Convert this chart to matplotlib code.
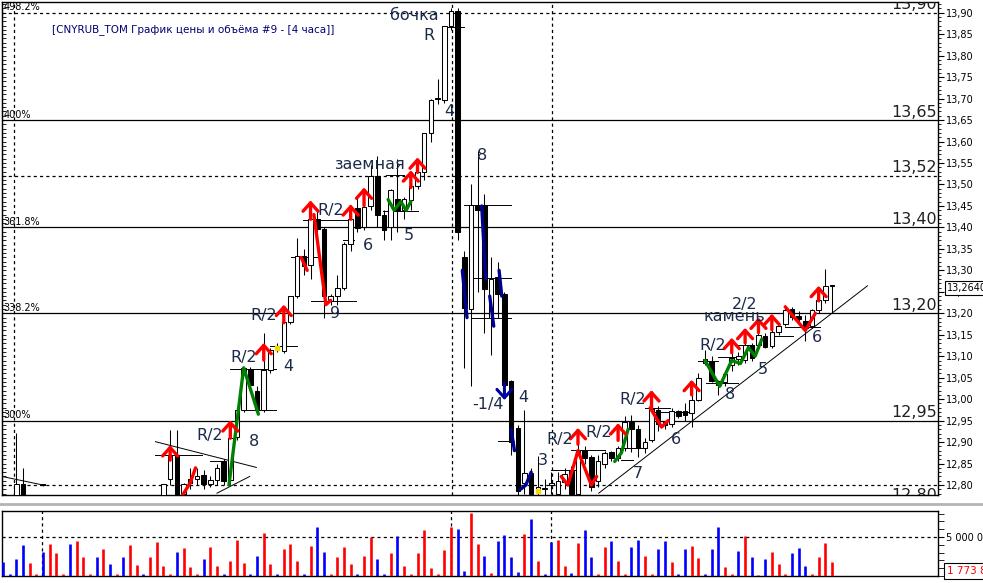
import numpy as np
import matplotlib.pyplot as plt
from matplotlib.lines import Line2D
from matplotlib.ticker import MultipleLocator, FixedLocator, FuncFormatter

nan = np.nan

# CNYRUB_TOM, 4-hour bars, index 0..124 (NaN = bar sits below the visible window)
opens = [nan, nan, 12.775, 12.802, nan, nan, 12.801, nan, nan, nan,
         nan, nan, nan, nan, nan, nan, nan, nan, nan, nan,
         nan, nan, nan, nan, 12.775, 12.813, 12.867, 12.778, 12.815, 12.813,
         12.823, 12.802, 12.812, 12.855, 12.812, 12.911, 12.975, 13.070, 13.020, 12.975,
         13.069, 13.120, 13.113, 13.180, 13.240, 13.334, 13.313, 13.419, 13.396, 13.229,
         13.241, 13.260, 13.361, 13.445, 13.400, 13.449, 13.520, 13.430, 13.400, 13.466,
         13.440, 13.463, 13.496, 13.528, 13.620, 13.700, 13.697, 13.869, 13.905, 13.330,
         13.210, 13.450, 13.453, 13.190, 13.285, 13.244, 13.042, 12.933, 12.804, 12.827,
         12.790, 12.790, 12.800, 12.780, 12.806, 12.833, 12.780, 12.882, 12.865, 12.810,
         12.848, 12.876, 12.862, 12.886, 12.947, 12.930, 12.886, 12.905, 12.974, 12.948,
         12.942, 12.973, 12.972, 12.968, 12.999, 13.084, 13.089, 13.043, 13.041, 13.080,
         13.093, 13.092, 13.127, 13.126, 13.148, 13.124, 13.157, 13.174, 13.209, 13.194,
         13.183, 13.170, 13.207, 13.231, 13.264]
highs = [nan, nan, 12.921, 12.839, nan, nan, 12.803, nan, nan, nan,
         nan, nan, nan, nan, nan, nan, nan, nan, nan, nan,
         nan, nan, nan, nan, 12.802, 12.929, 12.929, 12.805, 12.840, 12.839,
         12.835, 12.820, 12.850, 12.860, 12.950, 12.980, 13.075, 13.075, 13.030, 13.154,
         13.120, 13.130, 13.190, 13.240, 13.376, 13.350, 13.430, 13.440, 13.400, 13.245,
         13.290, 13.365, 13.420, 13.470, 13.490, 13.545, 13.566, 13.440, 13.490, 13.560,
         13.470, 13.500, 13.530, 13.620, 13.700, 13.746, 13.870, 13.910, 13.910, 13.346,
         13.500, 13.577, 13.477, 13.330, 13.320, 13.250, 13.045, 12.940, 12.975, 12.840,
         12.867, 12.815, 12.830, 12.830, 12.840, 12.845, 12.920, 12.890, 12.870, 12.870,
         12.880, 12.880, 12.890, 12.960, 12.964, 12.940, 12.910, 12.985, 12.985, 12.950,
         12.980, 12.975, 12.990, 13.010, 13.060, 13.115, 13.100, 13.045, 13.065, 13.110,
         13.110, 13.160, 13.130, 13.155, 13.155, 13.165, 13.175, 13.220, 13.215, 13.205,
         13.197, 13.210, 13.235, 13.303, 13.264]
lows = [nan, nan, 12.770, 12.770, nan, nan, 12.798, nan, nan, nan,
        nan, nan, nan, nan, nan, nan, nan, nan, nan, nan,
        nan, nan, nan, nan, 12.770, 12.800, 12.770, 12.770, 12.790, 12.800,
        12.790, 12.795, 12.800, 12.800, 12.800, 12.905, 12.970, 13.020, 12.965, 12.970,
        13.060, 13.110, 13.108, 13.175, 13.236, 13.290, 13.280, 13.390, 13.190, 13.220,
        13.220, 13.255, 13.345, 13.390, 13.395, 13.440, 13.400, 13.370, 13.370, 13.390,
        13.420, 13.440, 13.490, 13.510, 13.600, 13.688, 13.690, 13.860, 13.370, 13.073,
        13.030, 13.250, 13.155, 13.104, 13.190, 13.030, 12.870, 12.770, 12.780, 12.770,
        12.770, 12.770, 12.780, 12.770, 12.790, 12.770, 12.770, 12.850, 12.785, 12.795,
        12.840, 12.855, 12.855, 12.880, 12.878, 12.865, 12.875, 12.900, 12.925, 12.930,
        12.935, 12.955, 12.950, 12.935, 12.995, 13.080, 13.040, 13.010, 13.030, 13.065,
        13.080, 13.085, 13.090, 13.120, 13.118, 13.120, 13.150, 13.170, 13.185, 13.180,
        13.135, 13.165, 13.200, 13.225, 13.200]
closes = [nan, nan, 12.802, 12.775, nan, nan, 12.800, nan, nan, nan,
          nan, nan, nan, nan, nan, nan, nan, nan, nan, nan,
          nan, nan, nan, nan, 12.802, 12.867, 12.775, 12.802, 12.805, 12.821,
          12.802, 12.811, 12.839, 12.810, 12.909, 12.975, 13.073, 13.034, 12.975, 13.069,
          13.115, 13.117, 13.180, 13.240, 13.334, 13.311, 13.419, 13.396, 13.240, 13.241,
          13.260, 13.361, 13.419, 13.398, 13.447, 13.520, 13.430, 13.393, 13.486, 13.440,
          13.466, 13.496, 13.528, 13.620, 13.697, 13.698, 13.869, 13.905, 13.390, 13.213,
          13.453, 13.440, 13.256, 13.281, 13.244, 13.034, 12.901, 12.785, 12.827, 12.780,
          12.795, 12.792, 12.805, 12.809, 12.825, 12.780, 12.882, 12.862, 12.796, 12.855,
          12.874, 12.862, 12.886, 12.947, 12.930, 12.886, 12.900, 12.978, 12.943, 12.940,
          12.973, 12.960, 12.963, 12.999, 13.049, 13.093, 13.043, 13.032, 13.058, 13.096,
          13.100, 13.127, 13.096, 13.150, 13.122, 13.157, 13.171, 13.207, 13.191, 13.186,
          13.166, 13.207, 13.231, 13.264, 13.264]

# volume, thousands of lots; side r = red bar, b = blue bar
volumes = [1830, 290, 2210, 3930, 1700, 290, 3070, 4130, 2980, 290,
           4130, 4520, 2390, 290, 2390, 3420, 1570, 290, 2390, 4010,
           1450, 290, 2470, 4390, 1320, 290, 3110, 3620, 1190, 290,
           2210, 3750, 1320, 290, 1960, 4650, 1700, 290, 2600, 5540,
           1570, 290, 3490, 4130, 1960, 290, 3880, 6310, 3110, 290,
           2470, 3750, 1570, 290, 2600, 5030, 2210, 290, 2980, 5160,
           1320, 290, 2980, 5930, 1060, 290, 3370, 6310, 6050, 680,
           8100, 4130, 2600, 420, 4520, 5290, 2470, 550, 5410, 7260,
           1960, 290, 4390, 4650, 1320, 420, 4260, 5930, 2470, 290,
           3750, 4520, 1960, 290, 3750, 4650, 2600, 290, 3490, 4520,
           1830, 290, 3490, 3880, 2340, 290, 3490, 6310, 1190, 290,
           3240, 5160, 2470, 170, 2210, 3110, 1570, 290, 2980, 3620,
           1320, 290, 2470, 4260, 1830]
vol_side = ("bbbbrrbrrr" "brrrbrbrbr" "rbrrrrbrrr" "brrbrrrbbr" "rbrrrbrbbr"
            "rrrbrrbbrb" "rrrrrrrrbb" "rrbrbbbbrb" "rbbrrbrbbr" "rbrrbbrrbb"
            "rbbrrbbbrr" "brbrbrrrbb" "brrrr")

solid_levels = [13.65, 13.40, 13.20, 12.95]
dashed_levels = [13.90, 13.52, 12.80]
price_labels = {13.90: "13,90", 13.65: "13,65", 13.52: "13,52", 13.40: "13,40",
                13.20: "13,20", 12.95: "12,95", 12.80: "12,80"}
fib_levels = [13.90, 13.65, 13.40, 13.20, 12.95]
fib_labels = ["498.2%", "400%", "361.8%", "338.2%", "300%"]

# wave marks: (bar, price)
green_waves = [[(33.8, 12.80), (36.0, 13.073), (38.2, 12.965)],
               [(57.6, 13.465), (58.5, 13.44), (59.5, 13.46), (60.3, 13.44), (61.0, 13.46)],
               [(91.5, 12.855), (92.5, 12.875), (93.5, 12.93)],
               [(105.0, 13.09), (107.2, 13.03), (109.0, 13.09)],
               [(109.0, 13.09), (110.3, 13.083), (111.5, 13.12), (112.5, 13.10), (113.5, 13.14)]]
red_waves = [[(26.8, 12.775), (28.0, 12.805), (28.8, 12.84)],
             [(44.6, 13.33), (45.5, 13.30)],
             [(46.5, 13.43), (48.3, 13.22), (49.0, 13.23)],
             [(83.5, 12.82), (84.5, 12.80), (86.0, 12.88), (88.0, 12.80), (88.8, 12.82)],
             [(96.8, 12.98), (98.5, 12.935), (99.5, 12.95)],
             [(117.0, 13.215), (120.0, 13.16), (121.5, 13.20)]]
blue_waves = [[(68.7, 13.30), (69.4, 13.19)],
              [(71.6, 13.45), (72.2, 13.28)],
              [(72.8, 13.24), (73.4, 13.17)],
              [(74.2, 13.30), (74.6, 13.24)],
              [(76.0, 12.93), (76.5, 12.88)],
              [(77.4, 12.79), (78.2, 12.80), (79.0, 12.83)]]

trend_lines = [[(-0.15, 12.820), (6.3, 12.799)],
               [(22.8, 12.901), (37.9, 12.841)],
               [(32.0, 12.781), (36.9, 12.820)],
               [(89.1, 12.781), (129.3, 13.264)]]
# short horizontal marks: (from bar, to bar, price)
level_marks = [(22.8, 29.7, 12.869), (30.9, 33.0, 12.856), (33.9, 40.9, 13.070),
               (35.7, 40.9, 12.974), (39.9, 43.9, 13.124), (44.9, 52.1, 13.418),
               (43.1, 47.1, 13.330), (46.0, 52.8, 13.229), (50.9, 52.5, 13.371),
               (51.8, 55.5, 13.400), (56.8, 62.1, 13.439), (57.3, 60.0, 13.521),
               (66.3, 69.0, 13.867), (69.0, 76.0, 13.453), (70.4, 76.0, 13.283),
               (70.0, 76.0, 13.190), (74.0, 76.5, 12.903), (82.0, 86.0, 12.835),
               (85.0, 90.0, 12.882), (92.4, 94.2, 12.858), (92.8, 95.8, 12.886),
               (92.4, 95.8, 12.949), (96.1, 99.8, 12.979), (97.3, 103.1, 12.971),
               (104.0, 106.9, 13.088), (105.1, 109.9, 13.038), (106.9, 110.3, 13.098),
               (109.9, 112.3, 13.125), (114.8, 118.1, 13.147), (117.0, 122.2, 13.168)]

# red signal arrows: (bar, base price, tip price)
up_arrows = [(25, 12.858, 12.893), (34, 12.909, 12.951), (39, 13.091, 13.131),
             (42, 13.178, 13.220), (46, 13.419, 13.463), (52, 13.419, 13.454),
             (54, 13.451, 13.493), (61, 13.493, 13.533), (62, 13.528, 13.563),
             (67, 13.905, 13.945), (86, 12.895, 12.933), (92, 12.904, 12.944),
             (97, 12.979, 13.021), (103, 13.010, 13.045), (109, 13.108, 13.143),
             (111, 13.131, 13.166), (113, 13.155, 13.190), (115, 13.162, 13.199),
             (122, 13.229, 13.264)]
down_arrows = [(75, 13.038, 12.998)]

notes = [("бочка", 61.5, 13.893), ("R", 63.7, 13.846), ("4", 66.7, 13.669),
         ("заемная", 54.8, 13.547), ("8", 71.6, 13.568), ("R/2", 49.0, 13.440),
         ("6", 54.6, 13.358), ("5", 60.7, 13.381), ("9", 49.6, 13.199),
         ("R/2", 39.0, 13.194), ("4", 42.7, 13.075), ("R/2", 36.0, 13.098),
         ("8", 37.6, 12.902), ("R/2", 30.9, 12.916), ("-1/4", 72.5, 12.988),
         ("4", 77.8, 13.003), ("3", 80.7, 12.858), ("R/2", 83.2, 12.907),
         ("R/2", 89.1, 12.923), ("7", 94.9, 12.828), ("R/2", 94.2, 13.000),
         ("6", 100.7, 12.907), ("R/2", 106.1, 13.126), ("8", 108.8, 13.010),
         ("5", 113.7, 13.070), ("камень", 109.4, 13.192), ("2/2", 111.0, 13.221),
         ("6", 121.8, 13.143)]

W, H = 983, 583
fig = plt.figure(figsize=(W / 100, H / 100), dpi=100)
fig.patch.set_facecolor('white')

def rect(x0, y0, x1, y1):
    return [x0 / W, 1 - y1 / H, (x1 - x0) / W, (y1 - y0) / H]

x_max = (938 - 1) / 6.7
ax = fig.add_axes(rect(2, 2, 938, 495))
axv = fig.add_axes(rect(2, 511, 938, 576))

# ---- price panel
o, h, l, c = map(np.array, (opens, highs, lows, closes))
idx = np.arange(len(o))
ok = ~np.isnan(o)
up = ok & (c >= o)
dn = ok & (c < o)
ax.vlines(idx[ok], l[ok], h[ok], color='black', lw=0.75, zorder=3)
lo = np.minimum(o, c)
hh = np.maximum(np.abs(c - o), 0.0025)
ax.bar(idx[up], hh[up], bottom=lo[up], width=0.68, color='white', edgecolor='black', lw=0.75, zorder=4)
ax.bar(idx[dn], hh[dn], bottom=lo[dn], width=0.68, color='black', edgecolor='black', lw=0.75, zorder=4)

for p in solid_levels:
    ax.axhline(p, color='black', lw=0.9, zorder=1)
for p in dashed_levels:
    ax.axhline(p, color='black', lw=0.9, ls=(0, (2.5, 2.5)), zorder=1)
for xv in [1.64, 67.2, 82.1]:
    ax.axvline(xv, color='black', lw=0.9, ls=(0, (2.5, 2.5)), zorder=1)

for p, s in price_labels.items():
    if p == 12.80:
        ax.text(x_max - 0.2, p - 0.007, s, ha='right', va='top', fontsize=11.5,
                color='#202020', zorder=6, clip_on=True)
    else:
        ax.text(x_max - 0.2, p + 0.001, s, ha='right', va='bottom', fontsize=11.5,
                color='#202020', zorder=6, clip_on=True)
for p, s in zip(fib_levels, fib_labels):
    ax.text(0.1, p + 0.001, s, ha='left', va='bottom', fontsize=7, color='black', zorder=6)

for seg in trend_lines:
    xs, ys = zip(*seg)
    ax.plot(xs, ys, color='black', lw=0.7, zorder=2)
for x0, x1, p in level_marks:
    ax.plot([x0, x1], [p, p], color='black', lw=0.7, zorder=2)

for waves, col in [(green_waves, '#008000'), (red_waves, '#ff0000'), (blue_waves, '#000090')]:
    for seg in waves:
        xs, ys = zip(*seg)
        ax.plot(xs, ys, color=col, lw=2.4, zorder=5, solid_capstyle='round')

for i, b, t in up_arrows:
    ax.annotate('', xy=(i, t), xytext=(i, b),
                arrowprops=dict(arrowstyle='->,head_width=0.45,head_length=0.5', color='#ff0000',
                                lw=2.4, shrinkA=0, shrinkB=0, mutation_scale=12), zorder=6)
for i, b, t in down_arrows:
    ax.annotate('', xy=(i, t), xytext=(i, b),
                arrowprops=dict(arrowstyle='->,head_width=0.45,head_length=0.5', color='#0000a0',
                                lw=2.2, shrinkA=0, shrinkB=0, mutation_scale=12), zorder=6)

ax.plot([41, 80], [13.118, 12.785], ls='none', marker='s', ms=3.5, color='#f5d800', zorder=6)

for s, xi, p in notes:
    ax.text(xi, p, s, ha='center', va='center', fontsize=11.5, color='#1b2a49', zorder=7)

ax.text(7.3, 13.862, '[CNYRUB_TOM График цены и объёма #9 - [4 часа]]', fontsize=7.5,
        color='#000070', ha='left', va='center')

ax.set_xlim(-0.15, x_max)
ax.set_ylim(12.7768, 13.925)
ax.set_xticks([])
ax.yaxis.tick_right()
ax.yaxis.set_major_locator(MultipleLocator(0.05))
ax.yaxis.set_minor_locator(MultipleLocator(0.01))
ax.yaxis.set_major_formatter(FuncFormatter(lambda v, _: f'{v:.2f}'.replace('.', ',')))
ax.tick_params(axis='y', which='major', length=4, width=0.8, labelsize=7, pad=1.5)
ax.tick_params(axis='y', which='minor', length=2, width=0.6)
left = ax.secondary_yaxis('left')
left.yaxis.set_major_locator(MultipleLocator(0.01))
left.tick_params(direction='in', length=3, width=0.6, labelleft=False)
for sp in ax.spines.values():
    sp.set_linewidth(1.0)

# ---- volume panel
vols = np.array(volumes)
cols = ['#ff0000' if s == 'r' else '#0000ff' for s in vol_side]
axv.vlines(idx, 0, vols, colors=cols, lw=1.9, zorder=3)
axv.axhline(5000, color='black', lw=0.9, ls=(0, (2.5, 2.5)), zorder=1)
for xv in [5.8, 67.0, 82.0]:
    axv.axvline(xv, color='black', lw=0.9, ls=(0, (2.5, 2.5)), zorder=1)
axv.set_xlim(-0.15, x_max)
axv.set_ylim(0, 8333)
axv.set_xticks([])
axv.yaxis.tick_right()
axv.yaxis.set_major_locator(FixedLocator([5000]))
axv.yaxis.set_major_formatter(FuncFormatter(lambda v, _: '5 000 000'))
axv.yaxis.set_minor_locator(MultipleLocator(1000))
axv.tick_params(axis='y', which='major', length=4, width=0.8, labelsize=7, pad=1.5)
axv.tick_params(axis='y', which='minor', length=4, width=0.6)
for sp in axv.spines.values():
    sp.set_linewidth(1.0)

fig.add_artist(Line2D([0, 1], [1 - 504 / H, 1 - 504 / H], color='#b4b4b4', lw=2))

fig.text(947 / W, 1 - 288 / H, '13,2640', fontsize=7, ha='left', va='center', color='black',
         bbox=dict(boxstyle='square,pad=0.25', fc='white', ec='black', lw=0.8))
fig.text(947 / W, 1 - 571 / H, '1 773 864', fontsize=7.5, ha='left', va='center', color='#ff0000',
         bbox=dict(boxstyle='square,pad=0.25', fc='white', ec='black', lw=0.8))

fig.savefig('out.png', dpi=100, facecolor='white')
